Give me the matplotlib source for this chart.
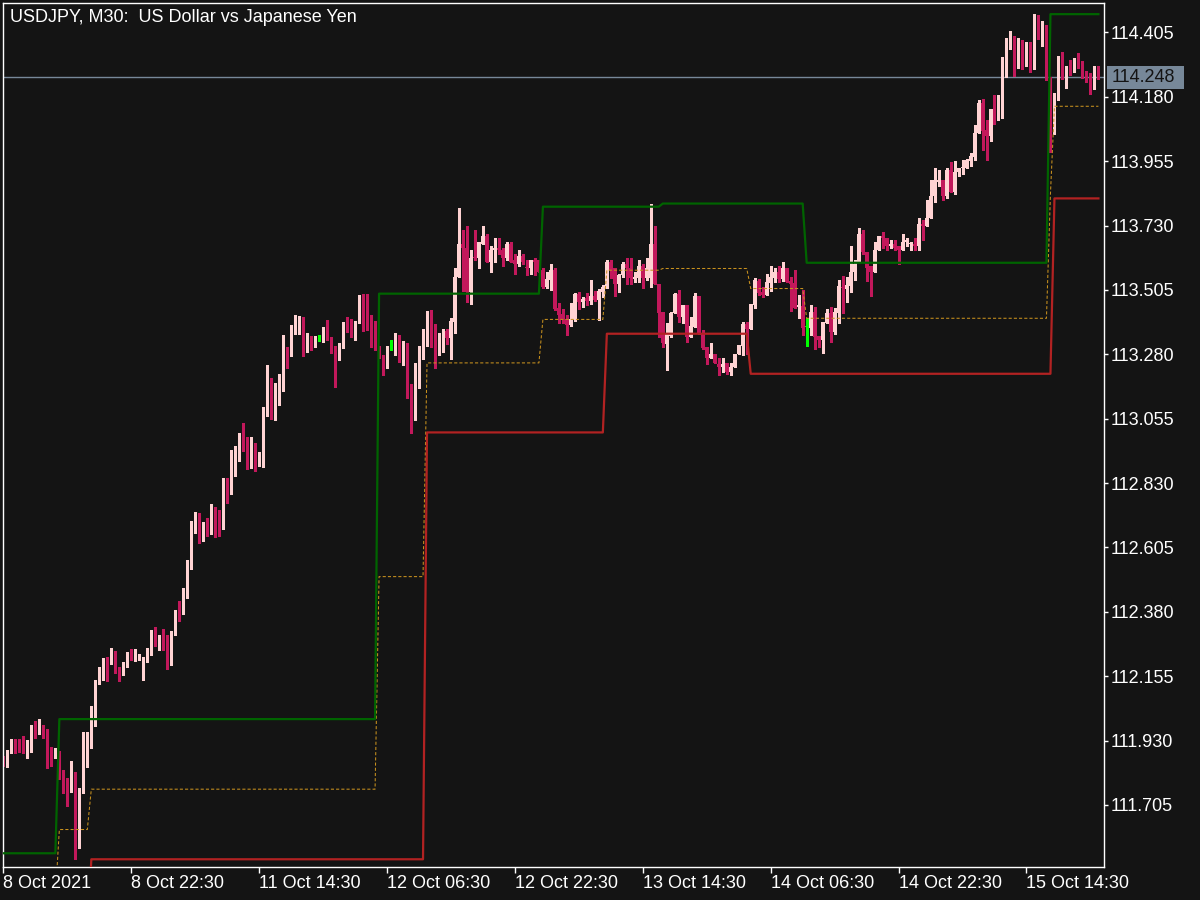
import numpy as np
import matplotlib
import matplotlib.pyplot as plt
from matplotlib.patches import Rectangle

matplotlib.use('Agg')
plt.rcParams['font.family'] = ['Liberation Sans', 'DejaVu Sans']

# --- USDJPY M30 candles ---
opens = [
    111.872, 111.840, 111.889, 111.931, 111.924, 111.924, 111.896, 111.903, 111.980, 111.959,
    111.966, 111.966, 111.882, 111.872, 111.889, 111.805, 111.777, 111.753, 111.816, 111.599,
    111.756, 111.858, 111.907, 112.040, 112.131, 112.159, 112.208, 112.201, 112.239, 112.180,
    112.169, 112.201, 112.236, 112.211, 112.215, 112.141, 112.211, 112.239, 112.306, 112.278,
    112.285, 112.281, 112.197, 112.302, 112.379, 112.376, 112.446, 112.540, 112.684, 112.698,
    112.635, 112.684, 112.666, 112.736, 112.722, 112.708, 112.813, 112.792, 112.887, 112.911,
    113.002, 112.971, 112.897, 112.932, 112.922, 112.932, 113.083, 113.195, 113.100, 113.104,
    113.160, 113.300, 113.275, 113.370, 113.380, 113.408, 113.310, 113.321, 113.307, 113.342,
    113.338, 113.370, 113.335, 113.289, 113.279, 113.303, 113.391, 113.387, 113.352, 113.391,
    113.482, 113.457, 113.401, 113.363, 113.300, 113.272, 113.254, 113.300, 113.300, 113.345,
    113.303, 113.317, 113.146, 113.076, 113.181, 113.300, 113.310, 113.380, 113.356, 113.279,
    113.331, 113.363, 113.338, 113.394, 113.552, 113.667, 113.653, 113.499, 113.618, 113.615,
    113.667, 113.692, 113.604, 113.643, 113.653, 113.646, 113.615, 113.667, 113.608, 113.594,
    113.625, 113.583, 113.580, 113.608, 113.608, 113.573, 113.517, 113.541, 113.573, 113.443,
    113.422, 113.405, 113.384, 113.401, 113.492, 113.464, 113.478, 113.468, 113.485, 113.471,
    113.499, 113.513, 113.601, 113.580, 113.527, 113.559, 113.594, 113.583, 113.545, 113.548,
    113.587, 113.548, 113.548, 113.667, 113.527, 113.429, 113.317, 113.345, 113.426, 113.492,
    113.412, 113.454, 113.342, 113.377, 113.485, 113.352, 113.307, 113.268, 113.282, 113.247,
    113.237, 113.251, 113.219, 113.237, 113.282, 113.310, 113.387, 113.370, 113.454, 113.538,
    113.499, 113.489, 113.531, 113.548, 113.569, 113.545, 113.580, 113.538, 113.531, 113.447,
    113.450, 113.377, 113.373, 113.429, 113.345, 113.331, 113.391, 113.426, 113.359, 113.426,
    113.517, 113.510, 113.520, 113.566, 113.604, 113.702, 113.639, 113.587, 113.566, 113.643,
    113.692, 113.688, 113.657, 113.664, 113.657, 113.646, 113.671, 113.664, 113.667, 113.657,
    113.737, 113.727, 113.755, 113.832, 113.884, 113.888, 113.832, 113.926, 113.849, 113.916,
    113.930, 113.930, 113.954, 113.968, 114.052, 114.157, 114.063, 114.042, 114.136, 114.098,
    114.133, 114.301, 114.346, 114.371, 114.280, 114.343, 114.290, 114.332, 114.304, 114.451,
    114.381, 114.392, 114.248, 114.063, 114.168, 114.311, 114.248, 114.287, 114.276, 114.315,
    114.290, 114.262, 114.248, 114.206, 114.287,
]
closes = [
    111.851, 111.893, 111.931, 111.924, 111.921, 111.896, 111.907, 111.980, 111.959, 111.966,
    111.963, 111.879, 111.872, 111.889, 111.798, 111.774, 111.753, 111.816, 111.599, 111.760,
    111.861, 111.910, 112.043, 112.134, 112.159, 112.208, 112.201, 112.239, 112.176, 112.169,
    112.201, 112.236, 112.215, 112.218, 112.229, 112.211, 112.250, 112.309, 112.267, 112.285,
    112.274, 112.197, 112.306, 112.379, 112.372, 112.449, 112.544, 112.684, 112.698, 112.635,
    112.684, 112.666, 112.733, 112.719, 112.708, 112.810, 112.792, 112.890, 112.918, 113.002,
    112.967, 112.897, 112.932, 112.922, 112.936, 113.086, 113.195, 113.100, 113.107, 113.163,
    113.296, 113.275, 113.370, 113.384, 113.412, 113.310, 113.321, 113.307, 113.342, 113.342,
    113.370, 113.331, 113.310, 113.275, 113.307, 113.391, 113.387, 113.352, 113.394, 113.482,
    113.454, 113.398, 113.356, 113.300, 113.272, 113.251, 113.300, 113.300, 113.345, 113.300,
    113.317, 113.139, 113.076, 113.184, 113.300, 113.314, 113.380, 113.352, 113.275, 113.335,
    113.363, 113.338, 113.398, 113.552, 113.667, 113.650, 113.499, 113.618, 113.615, 113.671,
    113.692, 113.604, 113.646, 113.653, 113.643, 113.615, 113.667, 113.604, 113.594, 113.625,
    113.604, 113.580, 113.608, 113.601, 113.569, 113.517, 113.545, 113.573, 113.440, 113.419,
    113.401, 113.384, 113.405, 113.492, 113.464, 113.475, 113.468, 113.485, 113.471, 113.503,
    113.517, 113.601, 113.576, 113.527, 113.559, 113.594, 113.583, 113.548, 113.552, 113.587,
    113.548, 113.580, 113.667, 113.527, 113.426, 113.321, 113.352, 113.426, 113.492, 113.412,
    113.454, 113.342, 113.380, 113.485, 113.352, 113.303, 113.268, 113.282, 113.251, 113.237,
    113.247, 113.219, 113.237, 113.282, 113.314, 113.387, 113.370, 113.457, 113.541, 113.496,
    113.489, 113.534, 113.552, 113.566, 113.545, 113.580, 113.534, 113.527, 113.443, 113.454,
    113.373, 113.377, 113.429, 113.342, 113.331, 113.394, 113.426, 113.359, 113.429, 113.520,
    113.513, 113.524, 113.569, 113.597, 113.702, 113.636, 113.583, 113.566, 113.643, 113.692,
    113.685, 113.657, 113.664, 113.653, 113.646, 113.674, 113.681, 113.667, 113.657, 113.737,
    113.727, 113.758, 113.835, 113.888, 113.888, 113.832, 113.926, 113.849, 113.919, 113.933,
    113.933, 113.958, 113.972, 114.052, 114.157, 114.059, 114.042, 114.136, 114.098, 114.136,
    114.304, 114.346, 114.371, 114.280, 114.343, 114.290, 114.332, 114.294, 114.455, 114.381,
    114.392, 114.245, 114.066, 114.171, 114.311, 114.248, 114.287, 114.276, 114.315, 114.287,
    114.259, 114.245, 114.210, 114.287, 114.248,
]
highs = [
    111.875, 111.896, 111.935, 111.935, 111.935, 111.945, 111.931, 111.984, 111.998, 112.005,
    111.984, 111.970, 111.907, 111.903, 111.893, 111.826, 111.798, 111.858, 111.819, 111.763,
    111.959, 111.959, 112.050, 112.141, 112.187, 112.218, 112.222, 112.253, 112.243, 112.187,
    112.204, 112.239, 112.250, 112.250, 112.232, 112.222, 112.253, 112.316, 112.327, 112.299,
    112.320, 112.299, 112.313, 112.386, 112.418, 112.463, 112.561, 112.698, 112.729, 112.726,
    112.694, 112.708, 112.757, 112.747, 112.736, 112.848, 112.848, 112.946, 112.960, 113.006,
    113.041, 112.992, 112.992, 112.971, 112.939, 113.097, 113.244, 113.198, 113.181, 113.212,
    113.349, 113.307, 113.384, 113.419, 113.415, 113.412, 113.356, 113.345, 113.345, 113.349,
    113.377, 113.401, 113.342, 113.310, 113.321, 113.394, 113.412, 113.405, 113.398, 113.489,
    113.492, 113.492, 113.419, 113.398, 113.310, 113.279, 113.310, 113.331, 113.356, 113.349,
    113.328, 113.321, 113.177, 113.251, 113.310, 113.370, 113.433, 113.436, 113.387, 113.356,
    113.370, 113.370, 113.408, 113.580, 113.793, 113.713, 113.730, 113.646, 113.716, 113.674,
    113.730, 113.702, 113.657, 113.685, 113.688, 113.653, 113.674, 113.671, 113.632, 113.646,
    113.629, 113.608, 113.611, 113.615, 113.611, 113.583, 113.569, 113.594, 113.580, 113.461,
    113.440, 113.419, 113.461, 113.496, 113.499, 113.482, 113.496, 113.541, 113.503, 113.510,
    113.524, 113.611, 113.611, 113.583, 113.562, 113.601, 113.615, 113.615, 113.566, 113.608,
    113.594, 113.618, 113.807, 113.727, 113.527, 113.429, 113.391, 113.429, 113.496, 113.506,
    113.454, 113.454, 113.412, 113.496, 113.485, 113.366, 113.307, 113.321, 113.282, 113.268,
    113.268, 113.251, 113.251, 113.282, 113.314, 113.394, 113.394, 113.457, 113.548, 113.545,
    113.517, 113.562, 113.587, 113.580, 113.587, 113.601, 113.580, 113.552, 113.576, 113.489,
    113.506, 113.408, 113.454, 113.447, 113.345, 113.394, 113.440, 113.447, 113.443, 113.541,
    113.555, 113.552, 113.660, 113.611, 113.723, 113.716, 113.639, 113.587, 113.674, 113.695,
    113.709, 113.688, 113.681, 113.681, 113.657, 113.699, 113.688, 113.674, 113.685, 113.758,
    113.751, 113.821, 113.891, 113.933, 113.926, 113.888, 113.933, 113.951, 113.954, 113.933,
    113.958, 113.961, 113.982, 114.080, 114.168, 114.171, 114.098, 114.136, 114.185, 114.185,
    114.318, 114.385, 114.409, 114.392, 114.385, 114.378, 114.371, 114.371, 114.469, 114.465,
    114.444, 114.430, 114.248, 114.192, 114.322, 114.336, 114.287, 114.308, 114.315, 114.332,
    114.304, 114.269, 114.262, 114.287, 114.287,
]
lows = [
    111.840, 111.837, 111.886, 111.886, 111.889, 111.886, 111.868, 111.889, 111.938, 111.952,
    111.938, 111.833, 111.840, 111.868, 111.795, 111.746, 111.700, 111.749, 111.515, 111.553,
    111.746, 111.837, 111.903, 111.980, 112.127, 112.141, 112.138, 112.197, 112.166, 112.138,
    112.159, 112.187, 112.211, 112.208, 112.211, 112.141, 112.204, 112.229, 112.260, 112.246,
    112.246, 112.180, 112.194, 112.299, 112.348, 112.372, 112.428, 112.530, 112.656, 112.621,
    112.628, 112.645, 112.652, 112.642, 112.645, 112.670, 112.761, 112.792, 112.855, 112.908,
    112.943, 112.880, 112.883, 112.873, 112.890, 112.887, 113.065, 113.055, 113.051, 113.104,
    113.153, 113.233, 113.275, 113.352, 113.352, 113.275, 113.289, 113.296, 113.307, 113.328,
    113.324, 113.331, 113.286, 113.167, 113.261, 113.303, 113.359, 113.342, 113.331, 113.391,
    113.363, 113.366, 113.307, 113.296, 113.268, 113.209, 113.233, 113.296, 113.279, 113.254,
    113.244, 113.128, 113.006, 113.051, 113.163, 113.265, 113.310, 113.307, 113.233, 113.279,
    113.289, 113.317, 113.265, 113.356, 113.552, 113.503, 113.464, 113.457, 113.608, 113.583,
    113.667, 113.601, 113.569, 113.604, 113.629, 113.590, 113.611, 113.604, 113.562, 113.590,
    113.594, 113.559, 113.562, 113.559, 113.566, 113.513, 113.513, 113.506, 113.436, 113.391,
    113.391, 113.349, 113.380, 113.398, 113.440, 113.447, 113.454, 113.457, 113.468, 113.401,
    113.482, 113.513, 113.548, 113.485, 113.499, 113.552, 113.527, 113.527, 113.534, 113.534,
    113.513, 113.541, 113.517, 113.527, 113.342, 113.307, 113.226, 113.342, 113.426, 113.394,
    113.391, 113.324, 113.342, 113.377, 113.352, 113.300, 113.247, 113.268, 113.251, 113.209,
    113.219, 113.212, 113.209, 113.237, 113.282, 113.279, 113.282, 113.370, 113.443, 113.489,
    113.482, 113.489, 113.503, 113.534, 113.534, 113.538, 113.534, 113.433, 113.443, 113.408,
    113.349, 113.310, 113.349, 113.300, 113.307, 113.286, 113.391, 113.324, 113.352, 113.391,
    113.426, 113.464, 113.499, 113.541, 113.604, 113.629, 113.538, 113.485, 113.566, 113.643,
    113.650, 113.643, 113.650, 113.646, 113.594, 113.646, 113.660, 113.646, 113.643, 113.643,
    113.678, 113.727, 113.755, 113.811, 113.867, 113.818, 113.825, 113.849, 113.842, 113.902,
    113.909, 113.930, 113.937, 113.958, 114.052, 113.993, 113.958, 114.024, 114.084, 114.098,
    114.105, 114.248, 114.346, 114.252, 114.280, 114.276, 114.287, 114.266, 114.276, 114.381,
    114.357, 114.238, 113.986, 114.049, 114.168, 114.241, 114.210, 114.255, 114.266, 114.280,
    114.245, 114.231, 114.189, 114.206, 114.241,
]

# channel indicator: levels and how many bars each level lasts
upper_levels = [111.536, 112.005, 113.492, 113.796, 113.807, 113.600, 114.469]
upper_counts = [14, 80, 41, 30, 36, 61, 13]
lower_levels = [111.233, 111.515, 113.007, 113.352, 113.212, 113.825]
lower_counts = [22, 84, 45, 36, 76, 12]
mid_levels = [111.385, 111.619, 111.760, 112.503, 113.250, 113.402, 113.574,
              113.580, 113.510, 113.406, 113.841, 114.147]
mid_counts = [14, 8, 72, 12, 29, 16, 14, 22, 14, 61, 1, 12]

last_price = 114.248
price_ticks = [114.405, 114.180, 113.955, 113.730, 113.505, 113.280, 113.055,
               112.830, 112.605, 112.380, 112.155, 111.930, 111.705]
time_labels = ["8 Oct 2021", "8 Oct 22:30", "11 Oct 14:30", "12 Oct 06:30",
               "12 Oct 22:30", "13 Oct 14:30", "14 Oct 06:30", "14 Oct 22:30",
               "15 Oct 14:30"]
bars_per_label = 32

BG = '#141414'
BULL = '#ffd3d3'
BEAR = '#c2185b'
DOJI = '#00ff00'

o = np.array(opens)
c = np.array(closes)
h = np.array(highs)
lo = np.array(lows)
x = np.arange(len(o))

colors = np.where(c > o, BULL, np.where(c < o, BEAR, DOJI))

fig = plt.figure(figsize=(12, 9), dpi=100)
fig.patch.set_facecolor(BG)
ax = fig.add_axes([3 / 1200, 1 - 867 / 900, 1101 / 1200, 864 / 900])
ax.set_facecolor(BG)

# last price line
ax.axhline(last_price, color='#778899', lw=1, zorder=1)

# candles
ax.vlines(x, lo, h, colors=colors, linewidth=1, zorder=2, antialiased=False)
body_bottom = np.minimum(o, c)
body_h = np.maximum(np.abs(c - o), 0.0035)
ax.bar(x, body_h, bottom=body_bottom, width=0.75, color=colors,
       linewidth=0, zorder=2, antialiased=False)

# channel lines
upper = np.repeat(upper_levels, upper_counts)
lower = np.repeat(lower_levels, lower_counts)
mid = np.repeat(mid_levels, mid_counts)
ax.plot(x, mid, color='#c8911e', lw=0.75, ls=(0, (3, 2)), zorder=3)
ax.plot(x, upper, color='#006400', lw=1.6, zorder=4)
ax.plot(x, lower, color='#b22222', lw=1.6, zorder=4)

ax.set_xlim(-0.1, 275.4)
ax.set_ylim(111.488, 114.508)

for s in ax.spines.values():
    s.set_color('white')
    s.set_linewidth(1)

ax.yaxis.tick_right()
ax.set_yticks(price_ticks)
ax.set_yticklabels([f'{p:.3f}' for p in price_ticks])
ax.tick_params(axis='y', colors='white', length=3, width=1, pad=2, labelsize=13)

ax.set_xticks([k * bars_per_label for k in range(len(time_labels))])
ax.set_xticklabels(time_labels, ha='left')
ax.tick_params(axis='x', colors='white', length=4, width=1, pad=2, labelsize=13)

# title
fig.text(10 / 1200, 1 - 17 / 900, "USDJPY, M30:  US Dollar vs Japanese Yen",
         color='white', fontsize=13, va='center', ha='left')

# last price tag on the price scale
fig.patches.append(Rectangle((1107 / 1200, 1 - 89 / 900), 77 / 1200, 23 / 900,
                             transform=fig.transFigure, facecolor='#778899',
                             edgecolor='none'))
fig.text(1112 / 1200, 1 - 78 / 900, f'{last_price:.3f}', color='#141414',
         fontsize=13, va='center', ha='left')

fig.savefig('out.png', dpi=100, facecolor=fig.get_facecolor())
